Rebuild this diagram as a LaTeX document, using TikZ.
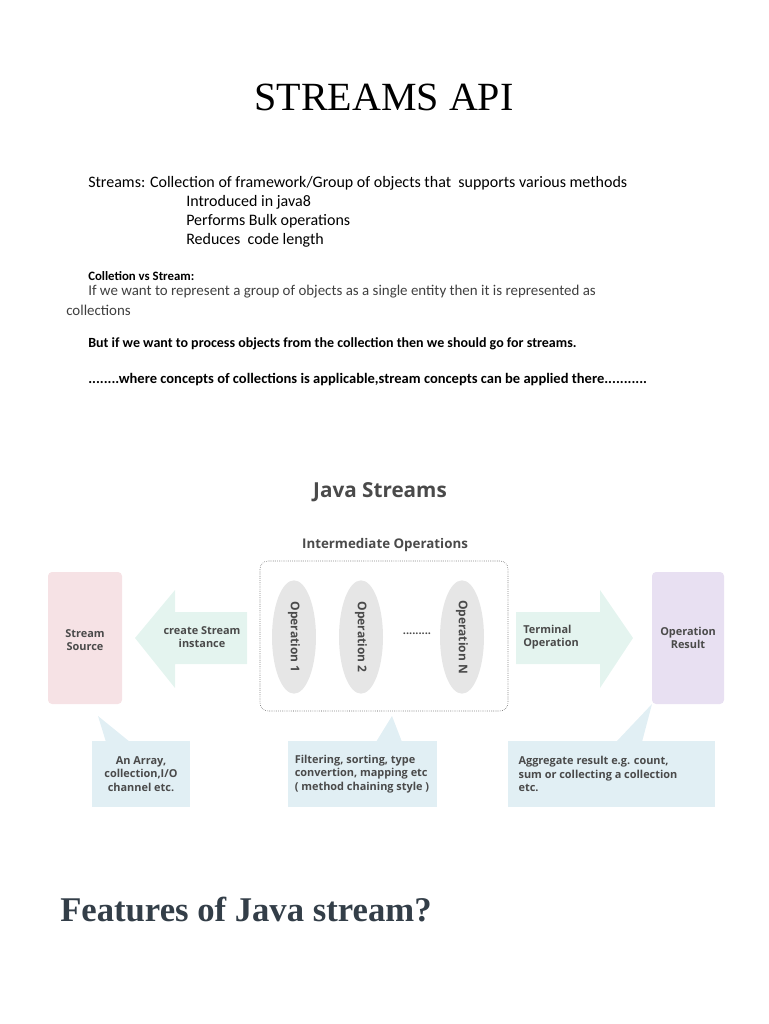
\documentclass[tikz,border=0pt]{standalone}
\usepackage{fontspec}
\setmainfont{Liberation Serif}
\newfontfamily\carl{Carlito}
\newfontfamily\osans{Open Sans}
\usetikzlibrary{shapes.geometric}
\definecolor{txtgray}{HTML}{3F3F3F}
\definecolor{diag}{HTML}{4A4A4A}
\definecolor{arrowc}{HTML}{E4F4EF}
\definecolor{callc}{HTML}{E1EFF4}
\definecolor{srcc}{HTML}{F6E2E5}
\definecolor{resc}{HTML}{E8E0F2}
\definecolor{opc}{HTML}{E6E6E6}
\definecolor{feat}{HTML}{333E48}
\tikzset{
 line/.style={anchor=west,inner sep=0pt,font=\carl\fontsize{12pt}{14pt}\selectfont},
 dtext/.style={font=\osans\bfseries\fontsize{8.2pt}{10pt}\selectfont,text=diag,align=center},
 pill/.style={ellipse,fill=opc,minimum width=33pt,minimum height=85pt,inner sep=0pt},
 callout/.style={fill=callc},
}
\begin{document}
\begin{tikzpicture}[x=0.75pt,y=-0.75pt]
\useasboundingbox (0,0) rectangle (768,1024);
\node (title) at (384,97) {\fontsize{30pt}{33pt}\selectfont STREAMS API};
\node[line] (l1) at (88,183) {Streams: Collection of framework/Group of objects that\ \ supports various methods};
\node[line] (l2) at (186,202) {Introduced in java8};
\node[line] (l3) at (186,221) {Performs Bulk operations};
\node[line] (l4) at (186,240) {Reduces\ \ code length};
\node[line,font=\carl\bfseries\fontsize{9.6pt}{11pt}\selectfont] (l5) at (88,276) {Colletion vs Stream:};
\node[line,text=txtgray,font=\carl\fontsize{11.2pt}{13pt}\selectfont] (l6) at (88,292) {If we want to represent a group of objects as a single entity then it is represented as};
\node[line,text=txtgray,font=\carl\fontsize{11.2pt}{13pt}\selectfont] (l7) at (66,310) {collections};
\node[line,font=\carl\bfseries\fontsize{10.5pt}{12pt}\selectfont] (l8) at (88,344) {But if we want to process objects from the collection then we should go for streams.};
\node[line,font=\carl\bfseries\fontsize{10.9pt}{12pt}\selectfont] (l9) at (88,380) {........where concepts of collections is applicable,stream concepts can be applied there...........};
% diagram
\node[font=\osans\bfseries\fontsize{15.5pt}{18pt}\selectfont,text=diag] (js) at (380,492) {Java Streams};
\node[font=\osans\bfseries\fontsize{10pt}{12pt}\selectfont,text=diag] (io) at (385,545) {Intermediate Operations};
\fill[srcc,rounded corners=3pt] (48,572) rectangle (122,704);
\node[dtext] (src) at (85,640) {Stream\\Source};
\fill[resc,rounded corners=3pt] (652,572) rectangle (724,704);
\node[dtext] (res) at (688,638) {Operation\\Result};
\fill[arrowc] (247,612) -- (175,612) -- (175,590) -- (135,638) -- (175,688) -- (175,664) -- (247,664) -- cycle;
\node[dtext] (cs) at (202,637) {create Stream\\instance};
\fill[arrowc] (516,612) -- (600,612) -- (600,590) -- (633,638) -- (600,688) -- (600,664) -- (516,664) -- cycle;
\node[dtext,align=left] (to) at (551,637) {Terminal\\Operation};
\draw[densely dotted,rounded corners=6pt,diag] (260,561) rectangle (508,711);
\node[pill] (o1) at (294,637) {};
\node[pill] (o2) at (361,637) {};
\node[pill] (on) at (462,637) {};
\node[dtext,rotate=-90,font=\osans\bfseries\fontsize{9pt}{10pt}\selectfont] at (o1) {Operation 1};
\node[dtext,rotate=-90,font=\osans\bfseries\fontsize{9pt}{10pt}\selectfont] at (o2) {Operation 2};
\node[dtext,rotate=-90,font=\osans\bfseries\fontsize{9pt}{10pt}\selectfont] at (on) {Operation N};
\node[dtext] (dots) at (417,634) {.........};
% callouts
\fill[callout] (92,741) rectangle (190,807);
\fill[callout] (106,742) -- (98,716) -- (130,742) -- cycle;
\node[dtext] (c1) at (141,774) {An Array,\\collection,I/O\\channel etc.};
\fill[callout] (288,741) rectangle (437,807);
\fill[callout] (376,742) -- (392,716) -- (402,742) -- cycle;
\node[dtext,align=left] (c2) at (362,774) {Filtering, sorting, type\\convertion, mapping etc\\( method chaining style )};
\fill[callout] (508,741) rectangle (715,807);
\fill[callout] (616,742) -- (652,704) -- (642,742) -- cycle;
\node[dtext,align=left] (c3) at (598,774) {Aggregate result e.g. count,\\sum or collecting a collection\\etc.};
\node[anchor=west,inner sep=0pt,text=feat,font=\bfseries\fontsize{26pt}{29pt}\selectfont] (ft) at (60,910) {Features of Java stream?};
\end{tikzpicture}
\end{document}
